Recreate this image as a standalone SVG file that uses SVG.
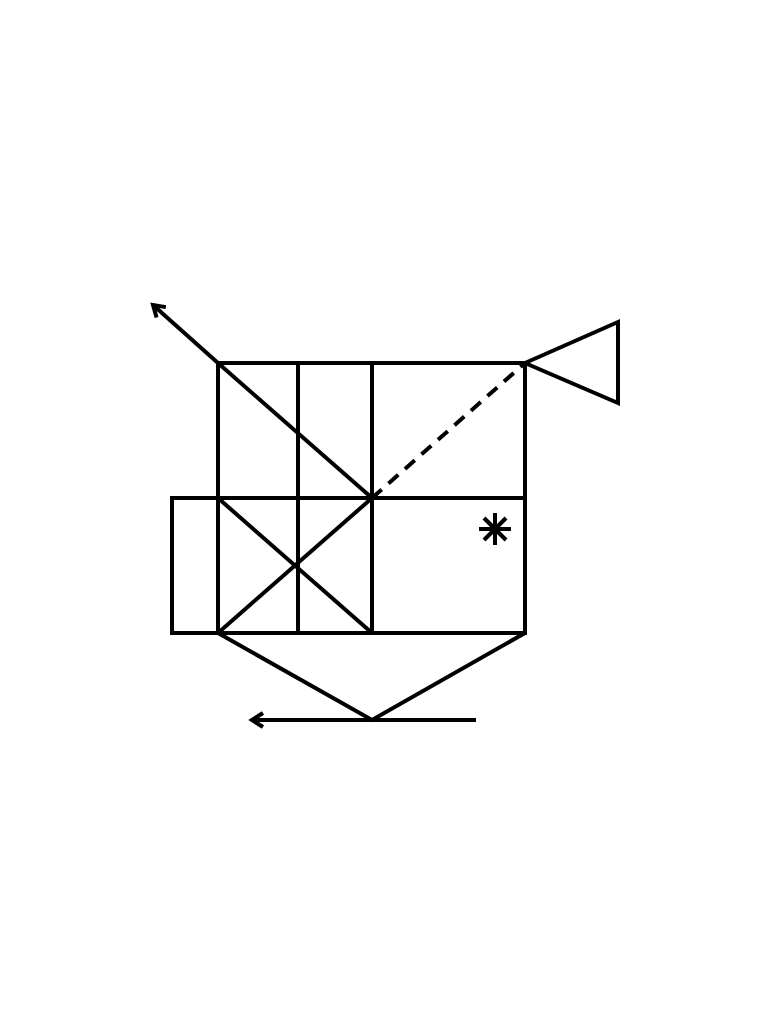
<svg xmlns="http://www.w3.org/2000/svg" width="768" height="1024" viewBox="0 0 768 1024">
<style>
.l{stroke:#000;stroke-width:4;fill:none;stroke-linecap:butt;stroke-linejoin:miter}
</style>
<defs>
<marker id="ah" viewBox="0 0 20 20" refX="16" refY="10" markerWidth="20" markerHeight="20" markerUnits="userSpaceOnUse" orient="auto">
<path d="M5,3 L16,10 L5,17" stroke="#000" stroke-width="4" fill="none"/>
</marker>
</defs>
<rect width="768" height="1024" fill="#fff"/>
<g id="frame">
<rect class="l" x="218" y="363" width="307" height="270"/>
<rect class="l" x="172" y="498" width="46" height="135"/>
<line class="l" x1="218" y1="498" x2="525" y2="498"/>
<line class="l" x1="298" y1="363" x2="298" y2="633"/>
<line class="l" x1="372" y1="363" x2="372" y2="633"/>
</g>
<g id="cross">
<line class="l" x1="218" y1="498" x2="372" y2="633"/>
<line class="l" x1="218" y1="633" x2="372" y2="498"/>
</g>
<g id="triangle">
<polygon class="l" points="525,363 618,322 618,403"/>
</g>
<g id="star">
<line class="l" x1="495" y1="513" x2="495" y2="545"/>
<line class="l" x1="479" y1="529" x2="511" y2="529"/>
<line class="l" x1="484" y1="518" x2="506" y2="540"/>
<line class="l" x1="484" y1="540" x2="506" y2="518"/>
</g>
<g id="base">
<polyline class="l" points="218,633 372,720 525,633"/>
</g>
<g id="connectors">
<line class="l" x1="372" y1="498" x2="218" y2="363"/>
<line class="l" x1="218" y1="363" x2="153" y2="305" marker-end="url(#ah)"/>
<line class="l" x1="372" y1="498" x2="525" y2="363" stroke-dasharray="13,9"/>
<line class="l" x1="476" y1="720" x2="252" y2="720" marker-end="url(#ah)"/>
</g>
</svg>
